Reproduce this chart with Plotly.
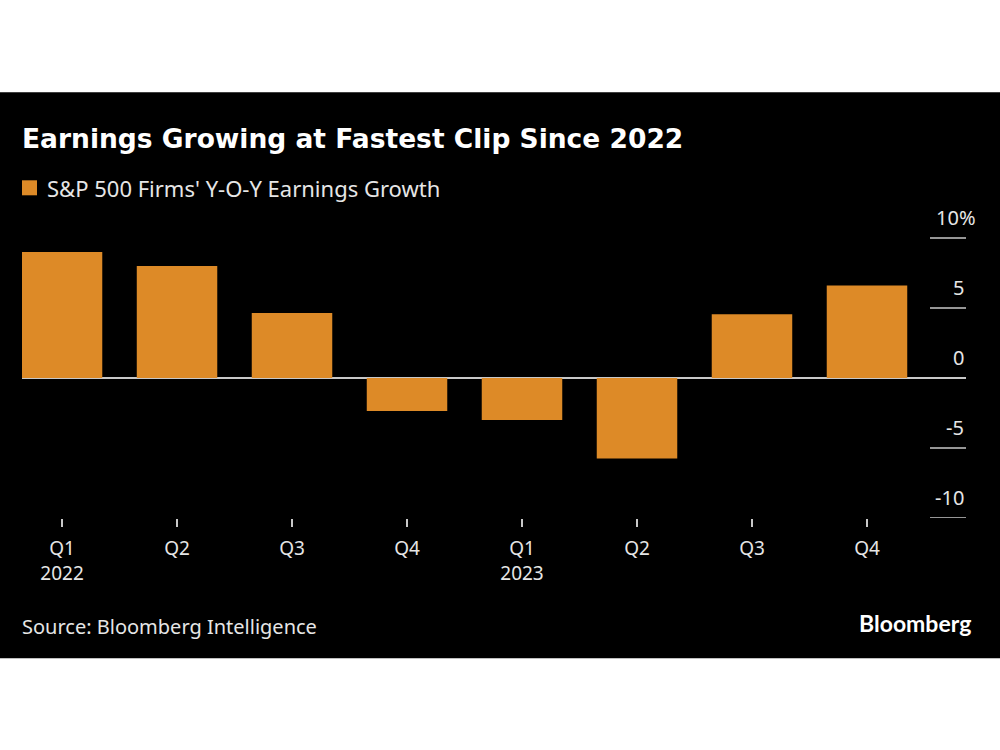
import plotly.graph_objects as go

# ---- data ----
quarters = ["2022-Q1", "2022-Q2", "2022-Q3", "2022-Q4", "2023-Q1", "2023-Q2", "2023-Q3", "2023-Q4"]
quarter_labels = ["Q1<br>2022", "Q2", "Q3", "Q4", "Q1<br>2023", "Q2", "Q3", "Q4"]
earnings_growth = [9.0, 8.0, 4.65, -2.35, -3.0, -5.75, 4.55, 6.6]
y_tick_vals = [10, 5, 0, -5, -10]
y_tick_text = ["10%", "5", "0", "-5", "-10"]
series_name = "S&P 500 Firms' Y-O-Y Earnings Growth"

# ---- layout geometry (pixels) ----
W, H = 1000, 750
PL, PR = 22, 966          # plot area left/right
PT, PB = 223.7, 517.7     # plot area top/bottom

def px(x):
    return (x - PL) / (PR - PL)

def py(y):
    return (PB - y) / (PB - PT)

ORANGE = "#dd8a27"
TXT = "#e6e6e6"
FONT = "Noto Sans, DejaVu Sans, sans-serif"

fig = go.Figure()
fig.add_trace(go.Bar(
    x=quarters, y=earnings_growth, width=0.7,
    marker=dict(color=ORANGE, line=dict(width=0)),
    name=series_name, showlegend=False,
))

shapes = [
    # black panel
    dict(type="rect", xref="paper", yref="paper", x0=px(-5), x1=px(W + 5), y0=py(658), y1=py(92),
         fillcolor="black", line=dict(width=0), layer="below"),
    # legend swatch
    dict(type="rect", xref="paper", yref="paper", x0=px(22), x1=px(37), y0=py(195), y1=py(180),
         fillcolor=ORANGE, line=dict(width=0), layer="above"),
]
# short tick segments at right
for v in y_tick_vals:
    if v == 0:
        continue
    shapes.append(dict(type="line", xref="paper", yref="y", x0=px(930), x1=px(966), y0=v, y1=v,
                       line=dict(color="#c8c8c8", width=1.5), layer="above"))

annotations = []
for v, t in zip(y_tick_vals, y_tick_text):
    xr = 978 if t.endswith("%") else 966
    annotations.append(dict(text=t, xref="paper", yref="y", x=px(xr), y=v, yshift=21,
                            xanchor="right", yanchor="middle", showarrow=False,
                            font=dict(family=FONT, size=20, color=TXT)))
annotations.append(dict(text=series_name, xref="paper", yref="paper",
                        x=px(45), y=py(188), xanchor="left", yanchor="middle", showarrow=False,
                        font=dict(family=FONT, size=22, color=TXT)))
annotations.append(dict(text="Source: Bloomberg Intelligence", xref="paper", yref="paper",
                        x=px(20), y=py(626), xanchor="left", yanchor="middle", showarrow=False,
                        font=dict(family=FONT, size=20, color=TXT)))
annotations.append(dict(text="<b>Bloomberg</b>", xref="paper", yref="paper",
                        x=px(973), y=py(623), xanchor="right", yanchor="middle", showarrow=False,
                        font=dict(family="Lato, Inter, sans-serif", size=23, color="white")))

fig.update_layout(
    width=W, height=H,
    margin=dict(l=PL, r=W - PR, t=PT, b=H - PB, pad=0),
    paper_bgcolor="white", plot_bgcolor="black",
    showlegend=False,
    title=dict(text="<b>Earnings Growing at Fastest Clip Since 2022</b>",
               xref="container", yref="container", x=22 / W, y=1 - 139 / H,
               xanchor="left", yanchor="middle",
               font=dict(family="DejaVu Sans, Noto Sans, sans-serif", size=26.5, color="white")),
    xaxis=dict(type="category", range=[-0.348, 7.861], tickvals=quarters, ticktext=quarter_labels,
               showgrid=False, zeroline=False, showline=False,
               ticks="outside", ticklen=8, tickwidth=1.5, tickcolor="#c8c8c8",
               ticklabelstandoff=5,
               tickfont=dict(family=FONT, size=19, color=TXT)),
    yaxis=dict(range=[-10, 11], showgrid=False, showticklabels=False, ticks="",
               zeroline=True, zerolinecolor="#c8c8c8", zerolinewidth=1.5, showline=False),
    shapes=shapes, annotations=annotations,
    bargap=0.3,
)

fig.write_html("out.html", config={"displayModeBar": False},
               post_script="document.body.style.margin='0';document.body.style.overflow='hidden';")
